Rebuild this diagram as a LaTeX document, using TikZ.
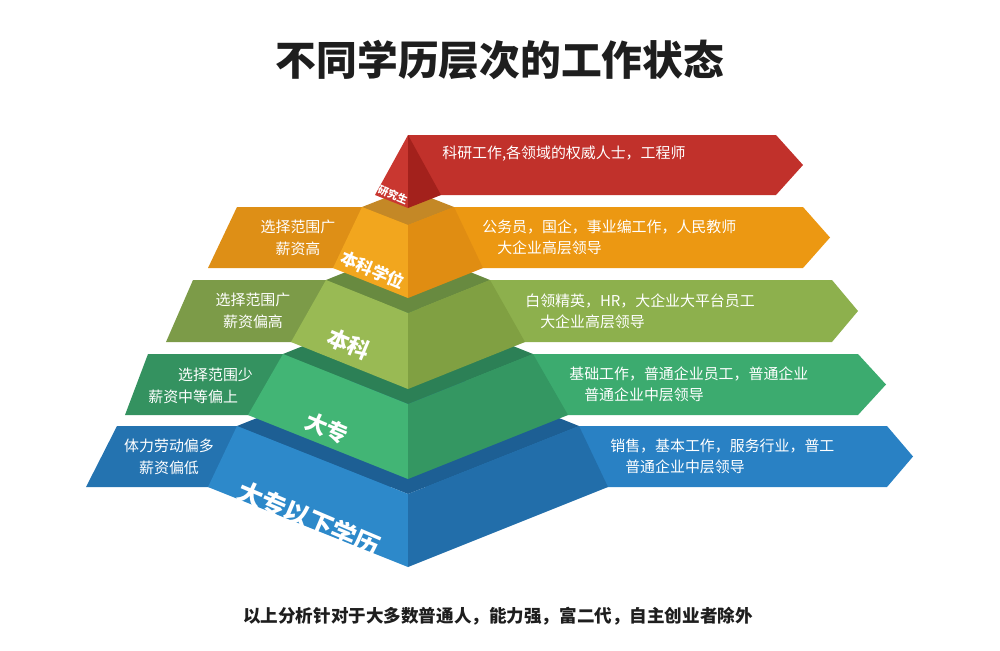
\documentclass[tikz,border=0pt]{standalone}
\usepackage{fontspec}
\setmainfont{Noto Sans CJK SC}
\usepackage{tikz}

\definecolor{redband}{RGB}{193,49,43}
\definecolor{redleft}{RGB}{201,55,48}
\definecolor{redright}{RGB}{163,33,28}
\definecolor{orangeband}{RGB}{236,152,18}
\definecolor{orangeside}{RGB}{222,143,22}
\definecolor{orangeleft}{RGB}{242,166,30}
\definecolor{orangeright}{RGB}{224,141,18}
\definecolor{orangetop}{RGB}{196,136,38}
\definecolor{oliveband}{RGB}{141,176,77}
\definecolor{oliveside}{RGB}{124,155,72}
\definecolor{oliveleft}{RGB}{153,186,84}
\definecolor{oliveright}{RGB}{128,160,66}
\definecolor{olivetop}{RGB}{104,138,64}
\definecolor{greenband}{RGB}{60,171,111}
\definecolor{greenside}{RGB}{52,146,96}
\definecolor{greenleft}{RGB}{66,181,117}
\definecolor{greenright}{RGB}{52,151,98}
\definecolor{greentop}{RGB}{44,128,86}
\definecolor{blueband}{RGB}{41,129,196}
\definecolor{blueside}{RGB}{36,115,176}
\definecolor{blueleft}{RGB}{45,137,202}
\definecolor{blueright}{RGB}{34,110,170}
\definecolor{bluetop}{RGB}{29,95,148}
\definecolor{inkdark}{RGB}{30,30,30}

\tikzset{
  bandtxt/.style={text=white, inner sep=0pt, align=left, anchor=west, font=\fontsize{8.5}{11.9}\selectfont},
  sidetxt/.style={text=white, inner sep=0pt, align=center, font=\fontsize{8.5}{12.4}\selectfont},
  pylbl/.style={text=white, inner sep=0pt, rotate=-23, font=\fontsize{#1}{#1}\selectfont\bfseries}
}

\begin{document}
\begin{tikzpicture}[x=0.02cm, y=-0.02cm]
\useasboundingbox (0,0) rectangle (1000,650);

% left bands, behind the pyramid
\fill[orangeside] (237,207) -- (408,207) -- (408,268) -- (208,268) -- cycle;
\fill[oliveside] (193,280) -- (408,280) -- (408,342) -- (166,342) -- cycle;
\fill[greenside] (148,354) -- (408,354) -- (408,415) -- (125,415) -- cycle;
\fill[blueside] (117,426) -- (408,426) -- (408,487) -- (86,487) -- cycle;

% right arrows
\fill[redband] (408,135) -- (776,135) -- (803,165) -- (776,195) -- (408,195) -- cycle;
\fill[orangeband] (408,207) -- (803,207) -- (830,237.5) -- (803,268) -- (408,268) -- cycle;
\fill[oliveband] (408,280) -- (832,280) -- (858,311) -- (832,342) -- (408,342) -- cycle;
\fill[greenband] (408,354) -- (858,354) -- (886,384.5) -- (858,415) -- (408,415) -- cycle;
\fill[blueband] (408,426) -- (887,426) -- (913,456.5) -- (887,487) -- (408,487) -- cycle;

% pyramid, bottom layer first
\fill[bluetop] (237,426) -- (408,494) -- (579,426) -- (408,358) -- cycle;
\fill[blueleft] (237,426) -- (408,494) -- (408,567) -- (208,487) -- cycle;
\fill[blueright] (408,494) -- (579,426) -- (608,487) -- (408,567) -- cycle;

\fill[greentop] (283,354) -- (408,404) -- (533,354) -- (408,304) -- cycle;
\fill[greenleft] (283,354) -- (408,404) -- (408,479) -- (248,415) -- cycle;
\fill[greenright] (408,404) -- (533,354) -- (568,415) -- (408,479) -- cycle;

\fill[olivetop] (326,280) -- (408,313) -- (490,280) -- (408,247) -- cycle;
\fill[oliveleft] (326,280) -- (408,313) -- (408,389) -- (291,342) -- cycle;
\fill[oliveright] (408,313) -- (490,280) -- (525,342) -- (408,389) -- cycle;

\fill[orangetop] (362,207) -- (408,225) -- (454,207) -- (408,189) -- cycle;
\fill[orangeleft] (362,207) -- (408,225) -- (408,298) -- (333,268) -- cycle;
\fill[orangeright] (408,225) -- (454,207) -- (483,268) -- (408,298) -- cycle;

\fill[redleft] (408,135) -- (408,208) -- (375,195) -- cycle;
\fill[redright] (408,135) -- (441,195) -- (408,208) -- cycle;

% layer names
\node[pylbl=5.9] (grad) at (393,195) {研究生};
\node[pylbl=9.6] (deg) at (373,270) {本科学位};
\node[pylbl=12.5] (bach) at (349,344) {本科};
\node[pylbl=12.5] (junc) at (327,428) {大专};
\node[pylbl=14.4] (below) at (309,519) {大专以下学历};

% texts on the left
\node[sidetxt] (degside) at (298,237.5) {选择范围广\\薪资高};
\node[sidetxt] (bachside) at (253,311) {选择范围广\\薪资偏高};
\node[sidetxt, align=left, anchor=west] (juncside) at (148,386) {\hspace*{2em}选择范围少\\薪资中等偏上};
\node[sidetxt] (belowside) at (169,457) {体力劳动偏多\\薪资偏低};

% texts on the right
\node[bandtxt] (gradjob) at (442,154) {科研工作,各领域的权威人士，工程师};
\node[bandtxt] (degjob) at (482,237.5) {公务员，国企，事业编工作，人民教师\\\hspace*{1em}大企业高层领导};
\node[bandtxt] (bachjob) at (525,311) {白领精英，HR，大企业大平台员工\\\hspace*{1em}大企业高层领导};
\node[bandtxt] (juncjob) at (569,384.5) {基础工作，普通企业员工，普通企业\\\hspace*{1em}普通企业中层领导};
\node[bandtxt] (belowjob) at (610,456.5) {销售，基本工作，服务行业，普工\\\hspace*{1em}普通企业中层领导};

% title and note
\node[text=inkdark, font=\fontsize{23.2}{28}\selectfont\bfseries] (title) at (500,60) {不同学历层次的工作状态};
\node[text=inkdark, font=\fontsize{10}{12}\selectfont\bfseries] (note) at (498,616) {以上分析针对于大多数普通人，能力强，富二代，自主创业者除外};
\end{tikzpicture}
\end{document}
